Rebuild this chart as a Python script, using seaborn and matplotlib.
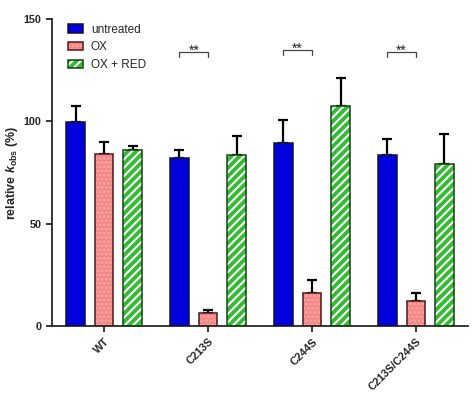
import numpy as np
import pandas as pd
import matplotlib
matplotlib.use("Agg")
import matplotlib.pyplot as plt
from matplotlib.patches import Rectangle, Patch
from matplotlib.legend_handler import HandlerTuple
import seaborn as sns

# values
mutants = ["WT", "C213S", "C244S", "C213S/C244S"]
treatments = ["untreated", "OX", "OX + RED"]
untreated = [99.5, 82.3, 89.5, 83.7]
untreated_err = [8.0, 3.5, 11.3, 7.8]
ox = [83.8, 6.2, 15.9, 12.1]
ox_err = [6.2, 1.6, 6.6, 3.9]
ox_red = [86.0, 83.5, 107.7, 79.0]
ox_red_err = [2.0, 9.5, 13.5, 15.0]
sig_y = [133.8, 134.8, 133.8]   # bracket heights for C213S, C244S, C213S/C244S

colors = ["#0000DD", "#F48484", "#33BB33"]
hatch_colors = ["#0000DD", "#F9A9A9", "white"]
hatches = [None, "....", "////"]
edges = ["#111133", "#4A1A1A", "#114411"]

df = pd.DataFrame({
    "mutant": mutants * 3,
    "treatment": np.repeat(treatments, 4),
    "value": untreated + ox + ox_red,
    "err": untreated_err + ox_err + ox_red_err,
})

sns.set_style("ticks")
plt.rcParams["font.family"] = ["Liberation Sans", "DejaVu Sans"]
plt.rcParams["mathtext.fontset"] = "custom"
plt.rcParams["mathtext.rm"] = "Liberation Sans:bold"
plt.rcParams["mathtext.it"] = "Liberation Sans:italic:bold"
plt.rcParams["hatch.linewidth"] = 1.5

fig = plt.figure(figsize=(4.74, 3.97), dpi=100)
ax = fig.add_axes([0.11, 0.179, 0.877, 0.773])

sns.barplot(data=df, x="mutant", y="value", hue="treatment", order=mutants,
            hue_order=treatments, palette=colors, width=0.825, gap=0.35,
            errorbar=None, saturation=1, ax=ax, legend=False)

bar_groups = list(ax.containers)

# hatch takes the edge colour, so fill patch carries the hatch and an
# extra outline rectangle is laid on top
for i, cont in enumerate(bar_groups):
    errs = df[df["treatment"] == treatments[i]]["err"].values
    xs, tops = [], []
    for p in cont.patches:
        p.set_edgecolor(hatch_colors[i])
        p.set_linewidth(0)
        p.set_zorder(2)
        if hatches[i]:
            p.set_hatch(hatches[i])
        ax.add_patch(Rectangle((p.get_x(), p.get_y()), p.get_width(), p.get_height(),
                               fill=False, edgecolor=edges[i], lw=1.1, zorder=3))
        xs.append(p.get_x() + p.get_width() / 2)
        tops.append(p.get_height())
    ax.errorbar(xs, tops, yerr=[np.zeros(len(errs)), errs], fmt="none",
                ecolor="black", elinewidth=1.6, capsize=3.6, capthick=1.6, zorder=1)

# stars over untreated vs OX for the three mutants
unt_bars = bar_groups[0].patches
ox_bars = bar_groups[1].patches
for k, h in zip(range(1, 4), sig_y):
    x0 = unt_bars[k].get_x() + unt_bars[k].get_width() / 2
    x1 = ox_bars[k].get_x() + ox_bars[k].get_width() / 2
    ax.plot([x0, x0, x1, x1], [h - 2.3, h, h, h - 2.3], color="#444444", lw=0.9)
    ax.text((x0 + x1) / 2, h - 1.5, "**", ha="center", va="baseline", fontsize=10,
            color="#222222")

ax.set_ylim(0, 150)
ax.set_xlim(-0.5, 3.5)
ax.set_yticks([0, 50, 100, 150])
ax.set_xlabel("")
ax.set_ylabel(r"relative $k_{\mathrm{obs}}$ (%)", fontsize=9, fontweight="bold")
ax.yaxis.set_label_coords(-0.078, 0.5)
ax.tick_params(axis="both", direction="out", width=1.3, length=4, labelsize=7.8)
plt.setp(ax.get_xticklabels(), rotation=45, ha="right", rotation_mode="anchor", fontweight="bold")
plt.setp(ax.get_yticklabels(), fontweight="bold")
for s in ["left", "bottom"]:
    ax.spines[s].set_linewidth(1.3)
sns.despine(ax=ax)

handles = []
for i in range(3):
    fill = Patch(facecolor=colors[i], edgecolor=hatch_colors[i], lw=0, hatch=hatches[i])
    outline = Patch(facecolor="none", edgecolor=edges[i], lw=1.1)
    handles.append((fill, outline))
ax.legend(handles, treatments, handler_map={tuple: HandlerTuple(ndivide=1)},
          loc="upper left", bbox_to_anchor=(0.038, 0.985), borderpad=0, borderaxespad=0,
          frameon=False, fontsize=8.5, handlelength=1.3, handleheight=0.68,
          handletextpad=0.65, labelspacing=0.48)

fig.savefig("out.png", dpi=100)
